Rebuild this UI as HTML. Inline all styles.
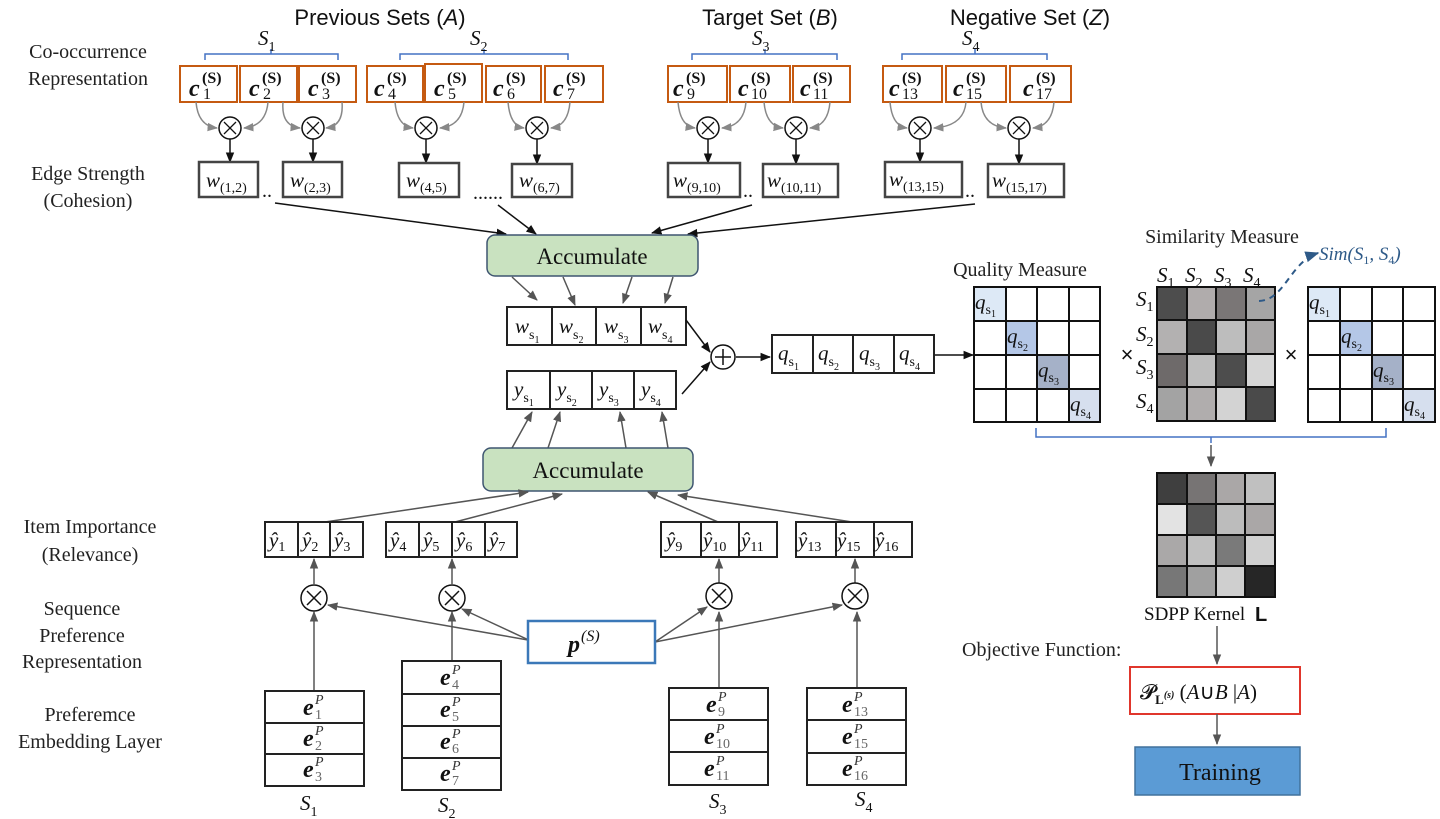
<!DOCTYPE html>
<html><head><meta charset="utf-8"><style>
html,body{margin:0;padding:0;background:#fff}
svg{display:block}
.lab{font-family:"Liberation Serif",serif;font-size:20px;fill:#222;text-anchor:middle}
.hd{font-family:"Liberation Sans",sans-serif;font-size:22px;fill:#111;text-anchor:middle}
.m{font-family:"Liberation Serif",serif;font-style:italic;font-size:21px;fill:#111}
.sub{font-size:14px;font-style:normal}
.c{font-family:"Liberation Serif",serif;font-style:italic;font-weight:bold;font-size:24px;fill:#111}
.cs{font-family:"Liberation Serif",serif;font-weight:bold;font-size:16px;fill:#111}
.cn{font-family:"Liberation Serif",serif;font-size:16px;fill:#111}
.es{font-family:"Liberation Serif",serif;font-style:italic;font-size:14px;fill:#333}
.en{font-family:"Liberation Serif",serif;font-size:14px;fill:#666}
.box{fill:#fff;stroke:#222;stroke-width:2}
.ob{fill:#fff;stroke:#c55a11;stroke-width:2}
.gb{fill:#fff;stroke:#444;stroke-width:2.5}
.ln{stroke:#111;stroke-width:1.5;fill:none}
.gl{stroke:#555;stroke-width:1.5;fill:none}
.br{stroke:#4472c4;stroke-width:1.5;fill:none}
</style></head><body>
<svg width="1440" height="819" viewBox="0 0 1440 819" xmlns="http://www.w3.org/2000/svg">
<defs>
<marker id="a" viewBox="0 0 10 10" refX="9" refY="5" markerWidth="7" markerHeight="7" orient="auto"><path d="M0,1 L10,5 L0,9 z" fill="#111"/></marker>
<marker id="g" viewBox="0 0 10 10" refX="9" refY="5" markerWidth="7" markerHeight="7" orient="auto"><path d="M0,1 L10,5 L0,9 z" fill="#555"/></marker>
<marker id="gg" viewBox="0 0 10 10" refX="9" refY="5" markerWidth="7" markerHeight="7" orient="auto"><path d="M0,1 L10,5 L0,9 z" fill="#888"/></marker>
<marker id="b" viewBox="0 0 10 10" refX="9" refY="5" markerWidth="7" markerHeight="7" orient="auto"><path d="M0,1 L10,5 L0,9 z" fill="#2e5a88"/></marker>
</defs>

<text class="hd" x="380" y="25">Previous Sets (<tspan font-style="italic">A</tspan>)</text>
<text class="hd" x="770" y="25">Target Set (<tspan font-style="italic">B</tspan>)</text>
<text class="hd" x="1030" y="25">Negative Set (<tspan font-style="italic">Z</tspan>)</text>

<text class="lab" x="88" y="58">Co-occurrence</text>
<text class="lab" x="88" y="85">Representation</text>
<text class="lab" x="88" y="180">Edge Strength</text>
<text class="lab" x="88" y="207">(Cohesion)</text>
<text class="lab" x="90" y="533">Item Importance</text>
<text class="lab" x="90" y="561">(Relevance)</text>
<text class="lab" x="82" y="615">Sequence</text>
<text class="lab" x="82" y="642">Preference</text>
<text class="lab" x="82" y="668">Representation</text>
<text class="lab" x="90" y="721">Preferemce</text>
<text class="lab" x="90" y="748">Embedding Layer</text>

<g class="br">
<path d="M205,60 V54 H338 V60 M271,54 V49"/>
<path d="M400,60 V54 H568 V60 M484,54 V49"/>
<path d="M692,60 V54 H837 V60 M765,54 V49"/>
<path d="M902,60 V54 H1047 V60 M975,54 V49"/>
</g>
<text class="m" x="258" y="45" font-size="24">S<tspan class="sub" dy="6" font-size="16">1</tspan></text>
<text class="m" x="470" y="45" font-size="24">S<tspan class="sub" dy="6" font-size="16">2</tspan></text>
<text class="m" x="752" y="45" font-size="24">S<tspan class="sub" dy="6" font-size="16">3</tspan></text>
<text class="m" x="962" y="45" font-size="24">S<tspan class="sub" dy="6" font-size="16">4</tspan></text>

<g>
<rect class="ob" x="180" y="66" width="57" height="36"/><rect class="ob" x="240" y="66" width="57" height="36"/><rect class="ob" x="299" y="66" width="57" height="36"/>
<rect class="ob" x="367" y="66" width="56" height="36"/><rect class="ob" x="425" y="64" width="57" height="38"/><rect class="ob" x="486" y="66" width="55" height="36"/><rect class="ob" x="545" y="66" width="58" height="36"/>
<rect class="ob" x="668" y="66" width="59" height="36"/><rect class="ob" x="730" y="66" width="60" height="36"/><rect class="ob" x="793" y="66" width="57" height="36"/>
<rect class="ob" x="883" y="66" width="59" height="36"/><rect class="ob" x="946" y="66" width="60" height="36"/><rect class="ob" x="1010" y="66" width="61" height="36"/>
</g>
<!-- c labels -->
<g>
<text class="c" x="189" y="96">c</text><text class="cs" x="202" y="83">(S)</text><text class="cn" x="203" y="99">1</text>
<text class="c" x="249" y="96">c</text><text class="cs" x="262" y="83">(S)</text><text class="cn" x="263" y="99">2</text>
<text class="c" x="308" y="96">c</text><text class="cs" x="321" y="83">(S)</text><text class="cn" x="322" y="99">3</text>
<text class="c" x="374" y="96">c</text><text class="cs" x="387" y="83">(S)</text><text class="cn" x="388" y="99">4</text>
<text class="c" x="434" y="96">c</text><text class="cs" x="447" y="83">(S)</text><text class="cn" x="448" y="99">5</text>
<text class="c" x="493" y="96">c</text><text class="cs" x="506" y="83">(S)</text><text class="cn" x="507" y="99">6</text>
<text class="c" x="553" y="96">c</text><text class="cs" x="566" y="83">(S)</text><text class="cn" x="567" y="99">7</text>
<text class="c" x="673" y="96">c</text><text class="cs" x="686" y="83">(S)</text><text class="cn" x="687" y="99">9</text>
<text class="c" x="738" y="96">c</text><text class="cs" x="751" y="83">(S)</text><text class="cn" x="751" y="99">10</text>
<text class="c" x="800" y="96">c</text><text class="cs" x="813" y="83">(S)</text><text class="cn" x="813" y="99">11</text>
<text class="c" x="889" y="96">c</text><text class="cs" x="902" y="83">(S)</text><text class="cn" x="902" y="99">13</text>
<text class="c" x="953" y="96">c</text><text class="cs" x="966" y="83">(S)</text><text class="cn" x="966" y="99">15</text>
<text class="c" x="1023" y="96">c</text><text class="cs" x="1036" y="83">(S)</text><text class="cn" x="1036" y="99">17</text>
</g>

<g stroke="#888" stroke-width="1.5" fill="none" marker-end="url(#gg)">
<path d="M196,102 Q198,126 217,128"/><path d="M268,102 Q266,126 244,128"/>
<path d="M283,102 Q281,126 300,128"/><path d="M342,102 Q344,126 326,128"/>
<path d="M395,102 Q397,126 413,128"/><path d="M464,102 Q462,126 440,128"/>
<path d="M508,102 Q510,126 524,128"/><path d="M570,102 Q568,126 551,128"/>
<path d="M678,102 Q680,126 695,128"/><path d="M746,102 Q744,126 722,128"/>
<path d="M764,102 Q766,126 783,128"/><path d="M830,102 Q828,126 810,128"/>
<path d="M890,102 Q892,126 907,128"/><path d="M966,102 Q964,126 934,128"/>
<path d="M981,102 Q983,126 1006,128"/><path d="M1054,102 Q1052,126 1033,128"/>
</g>
<g stroke="#111" stroke-width="1.5" fill="#fff">
<circle cx="230" cy="128" r="11"/><circle cx="313" cy="128" r="11"/><circle cx="426" cy="128" r="11"/><circle cx="537" cy="128" r="11"/>
<circle cx="708" cy="128" r="11"/><circle cx="796" cy="128" r="11"/><circle cx="920" cy="128" r="11"/><circle cx="1019" cy="128" r="11"/>
</g>
<g stroke="#111" stroke-width="1.3">
<path d="M224,122l12,12M236,122l-12,12"/><path d="M307,122l12,12M319,122l-12,12"/><path d="M420,122l12,12M432,122l-12,12"/><path d="M531,122l12,12M543,122l-12,12"/>
<path d="M702,122l12,12M714,122l-12,12"/><path d="M790,122l12,12M802,122l-12,12"/><path d="M914,122l12,12M926,122l-12,12"/><path d="M1013,122l12,12M1025,122l-12,12"/>
</g>
<g class="ln" marker-end="url(#a)">
<path d="M230,139V162"/><path d="M313,139V162"/><path d="M426,139V163"/><path d="M537,139V164"/>
<path d="M708,139V163"/><path d="M796,139V164"/><path d="M920,139V162"/><path d="M1019,139V164"/>
</g>

<g class="gb">
<rect x="199" y="162" width="59" height="35"/><rect x="283" y="162" width="59" height="35"/>
<rect x="399" y="163" width="60" height="34"/><rect x="512" y="164" width="60" height="33"/>
<rect x="668" y="163" width="72" height="34"/><rect x="763" y="164" width="75" height="33"/>
<rect x="885" y="162" width="77" height="35"/><rect x="988" y="164" width="76" height="33"/>
</g>
<g class="m">
<text x="206" y="187">w<tspan class="sub" dy="5" font-size="15">(1,2)</tspan></text>
<text x="290" y="187">w<tspan class="sub" dy="5" font-size="15">(2,3)</tspan></text>
<text x="406" y="187">w<tspan class="sub" dy="5" font-size="15">(4,5)</tspan></text>
<text x="519" y="187">w<tspan class="sub" dy="5" font-size="15">(6,7)</tspan></text>
<text x="673" y="187">w<tspan class="sub" dy="5" font-size="15">(9,10)</tspan></text>
<text x="767" y="187">w<tspan class="sub" dy="5" font-size="15">(10,11)</tspan></text>
<text x="889" y="186">w<tspan class="sub" dy="5" font-size="15">(13,15)</tspan></text>
<text x="992" y="187">w<tspan class="sub" dy="5" font-size="15">(15,17)</tspan></text>
</g>
<g font-family="Liberation Serif" font-size="20" fill="#111">
<text x="262" y="197">..</text><text x="473" y="199">......</text><text x="743" y="197">..</text><text x="965" y="197">..</text>
</g>

<g class="ln" marker-end="url(#a)">
<path d="M275,203 L506,234"/><path d="M498,205 L536,234"/><path d="M752,205 L652,233"/><path d="M975,204 L688,234"/>
</g>
<rect x="487" y="235" width="211" height="41" rx="8" fill="#c9e2c0" stroke="#3e5570" stroke-width="1.5"/>
<text x="592" y="264" font-family="Liberation Serif" font-size="23" fill="#111" text-anchor="middle">Accumulate</text>
<g class="gl" marker-end="url(#g)">
<path d="M512,277 L537,300"/><path d="M563,277 L575,305"/><path d="M632,277 L623,303"/><path d="M673,277 L665,303"/>
</g>

<g class="box"><rect x="507" y="307" width="45" height="38"/><rect x="552" y="307" width="44" height="38"/><rect x="596" y="307" width="45" height="38"/><rect x="641" y="307" width="45" height="38"/></g>
<g class="m">
<text x="515" y="333">w<tspan class="sub" dy="6">s</tspan><tspan dy="4" font-size="10" font-style="normal">1</tspan></text>
<text x="559" y="333">w<tspan class="sub" dy="6">s</tspan><tspan dy="4" font-size="10" font-style="normal">2</tspan></text>
<text x="604" y="333">w<tspan class="sub" dy="6">s</tspan><tspan dy="4" font-size="10" font-style="normal">3</tspan></text>
<text x="648" y="333">w<tspan class="sub" dy="6">s</tspan><tspan dy="4" font-size="10" font-style="normal">4</tspan></text>
</g>
<g class="box"><rect x="507" y="371" width="43" height="38"/><rect x="550" y="371" width="42" height="38"/><rect x="592" y="371" width="42" height="38"/><rect x="634" y="371" width="42" height="38"/></g>
<g class="m">
<text x="514" y="396">y<tspan class="sub" dy="6">s</tspan><tspan dy="4" font-size="10" font-style="normal">1</tspan></text>
<text x="557" y="396">y<tspan class="sub" dy="6">s</tspan><tspan dy="4" font-size="10" font-style="normal">2</tspan></text>
<text x="599" y="396">y<tspan class="sub" dy="6">s</tspan><tspan dy="4" font-size="10" font-style="normal">3</tspan></text>
<text x="641" y="396">y<tspan class="sub" dy="6">s</tspan><tspan dy="4" font-size="10" font-style="normal">4</tspan></text>
</g>
<g class="ln" marker-end="url(#a)"><path d="M686,320 L710,352"/><path d="M682,394 L710,362"/><path d="M736,357 L770,357"/><path d="M934,355 L973,355"/></g>
<circle cx="723" cy="357" r="12" fill="#fff" stroke="#111" stroke-width="1.5"/>
<path d="M715,357h16M723,349v16" stroke="#111" stroke-width="1.5"/>
<g class="box"><rect x="772" y="335" width="41" height="38"/><rect x="813" y="335" width="40" height="38"/><rect x="853" y="335" width="41" height="38"/><rect x="894" y="335" width="40" height="38"/></g>
<g class="m">
<text x="778" y="360">q<tspan class="sub" dy="6">s</tspan><tspan dy="4" font-size="10" font-style="normal">1</tspan></text>
<text x="818" y="360">q<tspan class="sub" dy="6">s</tspan><tspan dy="4" font-size="10" font-style="normal">2</tspan></text>
<text x="859" y="360">q<tspan class="sub" dy="6">s</tspan><tspan dy="4" font-size="10" font-style="normal">3</tspan></text>
<text x="899" y="360">q<tspan class="sub" dy="6">s</tspan><tspan dy="4" font-size="10" font-style="normal">4</tspan></text>
</g>

<g class="gl" marker-end="url(#g)">
<path d="M512,448 L532,412"/><path d="M548,448 L560,412"/><path d="M626,448 L620,412"/><path d="M668,448 L662,412"/>
</g>
<rect x="483" y="448" width="210" height="43" rx="8" fill="#c9e2c0" stroke="#3e5570" stroke-width="1.5"/>
<text x="588" y="478" font-family="Liberation Serif" font-size="23" fill="#111" text-anchor="middle">Accumulate</text>
<g class="gl" marker-end="url(#g)">
<path d="M325,522 L528,492"/><path d="M455,522 L562,494"/><path d="M718,522 L648,492"/><path d="M852,522 L678,495"/>
</g>

<g class="box">
<rect x="265" y="522" width="33" height="35"/><rect x="298" y="522" width="32" height="35"/><rect x="330" y="522" width="33" height="35"/>
<rect x="386" y="522" width="33" height="35"/><rect x="419" y="522" width="33" height="35"/><rect x="452" y="522" width="33" height="35"/><rect x="485" y="522" width="32" height="35"/>
<rect x="661" y="522" width="40" height="35"/><rect x="701" y="522" width="38" height="35"/><rect x="739" y="522" width="38" height="35"/>
<rect x="796" y="522" width="40" height="35"/><rect x="836" y="522" width="38" height="35"/><rect x="874" y="522" width="38" height="35"/>
</g>
<g class="m">
<text x="269" y="547">ŷ<tspan class="sub" dy="4">1</tspan></text><text x="302" y="547">ŷ<tspan class="sub" dy="4">2</tspan></text><text x="334" y="547">ŷ<tspan class="sub" dy="4">3</tspan></text>
<text x="390" y="547">ŷ<tspan class="sub" dy="4">4</tspan></text><text x="423" y="547">ŷ<tspan class="sub" dy="4">5</tspan></text><text x="456" y="547">ŷ<tspan class="sub" dy="4">6</tspan></text><text x="489" y="547">ŷ<tspan class="sub" dy="4">7</tspan></text>
<text x="666" y="547">ŷ<tspan class="sub" dy="4">9</tspan></text><text x="703" y="547">ŷ<tspan class="sub" dy="4">10</tspan></text><text x="741" y="547">ŷ<tspan class="sub" dy="4">11</tspan></text>
<text x="798" y="547">ŷ<tspan class="sub" dy="4">13</tspan></text><text x="837" y="547">ŷ<tspan class="sub" dy="4">15</tspan></text><text x="875" y="547">ŷ<tspan class="sub" dy="4">16</tspan></text>
</g>

<g class="gl" marker-end="url(#g)">
<path d="M314,584V559"/><path d="M452,584V559"/><path d="M719,584V559"/><path d="M855,584V559"/>
<path d="M314,691V612"/><path d="M452,661V612"/><path d="M719,688V612"/><path d="M857,688V612"/>
<path d="M528,640 L328,605"/><path d="M533,642 L462,609"/><path d="M655,642 L707,607"/><path d="M655,642 L842,605"/>
</g>
<g stroke="#111" stroke-width="1.5" fill="#fff">
<circle cx="314" cy="598" r="13"/><circle cx="452" cy="598" r="13"/><circle cx="719" cy="596" r="13"/><circle cx="855" cy="596" r="13"/>
</g>
<g stroke="#111" stroke-width="1.5">
<path d="M307,591l14,14M321,591l-14,14"/><path d="M445,591l14,14M459,591l-14,14"/><path d="M712,589l14,14M726,589l-14,14"/><path d="M848,589l14,14M862,589l-14,14"/>
</g>

<rect x="528" y="621" width="127" height="42" fill="#fff" stroke="#3b78b8" stroke-width="2.5"/>
<text x="568" y="652" class="c" font-size="25">p</text><text x="581" y="641" class="cn" font-style="italic">(S)</text>

<g class="box">
<rect x="265" y="691" width="99" height="32"/><rect x="265" y="723" width="99" height="31"/><rect x="265" y="754" width="99" height="32"/>
<rect x="402" y="661" width="99" height="33"/><rect x="402" y="694" width="99" height="32"/><rect x="402" y="726" width="99" height="32"/><rect x="402" y="758" width="99" height="32"/>
<rect x="669" y="688" width="99" height="32"/><rect x="669" y="720" width="99" height="32"/><rect x="669" y="752" width="99" height="33"/>
<rect x="807" y="688" width="99" height="32"/><rect x="807" y="720" width="99" height="33"/><rect x="807" y="753" width="99" height="32"/>
</g>
<g>
<text class="c" font-size="22" x="303" y="715">e</text><text class="es" x="315" y="704">P</text><text class="en" x="315" y="719">1</text>
<text class="c" font-size="22" x="303" y="746">e</text><text class="es" x="315" y="735">P</text><text class="en" x="315" y="750">2</text>
<text class="c" font-size="22" x="303" y="777">e</text><text class="es" x="315" y="766">P</text><text class="en" x="315" y="781">3</text>
<text class="c" font-size="22" x="440" y="685">e</text><text class="es" x="452" y="674">P</text><text class="en" x="452" y="689">4</text>
<text class="c" font-size="22" x="440" y="717">e</text><text class="es" x="452" y="706">P</text><text class="en" x="452" y="721">5</text>
<text class="c" font-size="22" x="440" y="749">e</text><text class="es" x="452" y="738">P</text><text class="en" x="452" y="753">6</text>
<text class="c" font-size="22" x="440" y="781">e</text><text class="es" x="452" y="770">P</text><text class="en" x="452" y="785">7</text>
<text class="c" font-size="22" x="706" y="712">e</text><text class="es" x="718" y="701">P</text><text class="en" x="718" y="716">9</text>
<text class="c" font-size="22" x="704" y="744">e</text><text class="es" x="716" y="733">P</text><text class="en" x="716" y="748">10</text>
<text class="c" font-size="22" x="704" y="776">e</text><text class="es" x="716" y="765">P</text><text class="en" x="716" y="780">11</text>
<text class="c" font-size="22" x="842" y="712">e</text><text class="es" x="854" y="701">P</text><text class="en" x="854" y="716">13</text>
<text class="c" font-size="22" x="842" y="744">e</text><text class="es" x="854" y="733">P</text><text class="en" x="854" y="748">15</text>
<text class="c" font-size="22" x="842" y="776">e</text><text class="es" x="854" y="765">P</text><text class="en" x="854" y="780">16</text>
</g>
<g class="m" font-size="24">
<text x="300" y="810">S<tspan class="sub" dy="6" font-size="16">1</tspan></text>
<text x="438" y="812">S<tspan class="sub" dy="6" font-size="16">2</tspan></text>
<text x="709" y="808">S<tspan class="sub" dy="6" font-size="16">3</tspan></text>
<text x="855" y="806">S<tspan class="sub" dy="6" font-size="16">4</tspan></text>
</g>

<text x="1222" y="243" font-family="Liberation Serif" font-size="20" fill="#222" text-anchor="middle">Similarity Measure</text>
<text x="1020" y="276" font-family="Liberation Serif" font-size="20" fill="#222" text-anchor="middle">Quality Measure</text>

<g stroke="none">
<rect x="974" y="287" width="32" height="34" fill="#dde9f6"/><rect x="1006" y="321" width="31" height="34" fill="#b4c7e7"/><rect x="1037" y="355" width="32" height="34" fill="#a5b1c8"/><rect x="1069" y="389" width="31" height="33" fill="#d6dfee"/>
</g>
<g stroke="#111" stroke-width="2" fill="none"><rect x="974" y="287" width="126" height="135"/><path d="M1006,287V422M1037,287V422M1069,287V422M974,321H1100M974,355H1100M974,389H1100"/></g>
<g class="m" font-size="21">
<text x="975" y="309">q<tspan class="sub" dy="5" font-size="14">s</tspan><tspan dy="3" font-size="10" font-style="normal">1</tspan></text>
<text x="1007" y="343">q<tspan class="sub" dy="5" font-size="14">s</tspan><tspan dy="3" font-size="10" font-style="normal">2</tspan></text>
<text x="1038" y="377">q<tspan class="sub" dy="5" font-size="14">s</tspan><tspan dy="3" font-size="10" font-style="normal">3</tspan></text>
<text x="1070" y="411">q<tspan class="sub" dy="5" font-size="14">s</tspan><tspan dy="3" font-size="10" font-style="normal">4</tspan></text>
</g>
<text x="1127" y="362" font-family="Liberation Sans" font-size="22" fill="#111" text-anchor="middle">×</text>

<g>
<rect x="1157" y="287" width="30" height="33" fill="#4d4d4d"/><rect x="1187" y="287" width="29" height="33" fill="#b0acac"/><rect x="1216" y="287" width="30" height="33" fill="#7a7676"/><rect x="1246" y="287" width="29" height="33" fill="#a5a5a5"/>
<rect x="1157" y="320" width="30" height="34" fill="#b3b1b1"/><rect x="1187" y="320" width="29" height="34" fill="#4a4a4a"/><rect x="1216" y="320" width="30" height="34" fill="#bdbdbd"/><rect x="1246" y="320" width="29" height="34" fill="#a9a7a7"/>
<rect x="1157" y="354" width="30" height="33" fill="#6e6a6a"/><rect x="1187" y="354" width="29" height="33" fill="#bebebe"/><rect x="1216" y="354" width="30" height="33" fill="#4d4d4d"/><rect x="1246" y="354" width="29" height="33" fill="#d6d6d6"/>
<rect x="1157" y="387" width="30" height="34" fill="#a3a3a3"/><rect x="1187" y="387" width="29" height="34" fill="#b0adad"/><rect x="1216" y="387" width="30" height="34" fill="#d3d3d3"/><rect x="1246" y="387" width="29" height="34" fill="#4a4a4a"/>
</g>
<g stroke="#111" stroke-width="2" fill="none"><rect x="1157" y="287" width="118" height="134"/><path d="M1187,287V421M1216,287V421M1246,287V421M1157,320H1275M1157,354H1275M1157,387H1275"/></g>
<g class="m" font-size="21">
<text x="1157" y="282">S<tspan class="sub" dy="5" font-size="13">1</tspan></text><text x="1185" y="282">S<tspan class="sub" dy="5" font-size="13">2</tspan></text><text x="1214" y="282">S<tspan class="sub" dy="5" font-size="13">3</tspan></text><text x="1243" y="282">S<tspan class="sub" dy="5" font-size="13">4</tspan></text>
<text x="1136" y="306">S<tspan class="sub" dy="5" font-size="13">1</tspan></text><text x="1136" y="341">S<tspan class="sub" dy="5" font-size="13">2</tspan></text><text x="1136" y="374">S<tspan class="sub" dy="5" font-size="13">3</tspan></text><text x="1136" y="408">S<tspan class="sub" dy="5" font-size="13">4</tspan></text>
</g>
<path d="M1259,301 C1285,300 1290,262 1318,253" stroke="#2e5a88" stroke-width="2" stroke-dasharray="6,5" fill="none" marker-end="url(#b)"/>
<text x="1319" y="260" font-family="Liberation Serif" font-style="italic" font-size="19" fill="#2e5a88">Sim(S<tspan font-size="12" font-style="normal" dy="4">1</tspan><tspan dy="-4">, S</tspan><tspan font-size="12" font-style="normal" dy="4">4</tspan><tspan dy="-4">)</tspan></text>
<text x="1291" y="362" font-family="Liberation Sans" font-size="22" fill="#111" text-anchor="middle">×</text>

<g>
<rect x="1308" y="287" width="32" height="34" fill="#dde9f6"/><rect x="1340" y="321" width="32" height="34" fill="#b4c7e7"/><rect x="1372" y="355" width="31" height="34" fill="#a5b1c8"/><rect x="1403" y="389" width="32" height="33" fill="#d6dfee"/>
</g>
<g stroke="#111" stroke-width="2" fill="none"><rect x="1308" y="287" width="127" height="135"/><path d="M1340,287V422M1372,287V422M1403,287V422M1308,321H1435M1308,355H1435M1308,389H1435"/></g>
<g class="m" font-size="21">
<text x="1309" y="309">q<tspan class="sub" dy="5" font-size="14">s</tspan><tspan dy="3" font-size="10" font-style="normal">1</tspan></text>
<text x="1341" y="343">q<tspan class="sub" dy="5" font-size="14">s</tspan><tspan dy="3" font-size="10" font-style="normal">2</tspan></text>
<text x="1373" y="377">q<tspan class="sub" dy="5" font-size="14">s</tspan><tspan dy="3" font-size="10" font-style="normal">3</tspan></text>
<text x="1404" y="411">q<tspan class="sub" dy="5" font-size="14">s</tspan><tspan dy="3" font-size="10" font-style="normal">4</tspan></text>
</g>

<path class="br" d="M1036,428 V437 H1386 V428 M1211,437 V443"/>
<path class="gl" d="M1211,445 V466" marker-end="url(#g)"/>

<g>
<rect x="1157" y="473" width="30" height="31" fill="#3f3f3f"/><rect x="1187" y="473" width="29" height="31" fill="#777474"/><rect x="1216" y="473" width="29" height="31" fill="#aaa7a7"/><rect x="1245" y="473" width="30" height="31" fill="#c0c0c0"/>
<rect x="1157" y="504" width="30" height="31" fill="#e3e3e3"/><rect x="1187" y="504" width="29" height="31" fill="#555"/><rect x="1216" y="504" width="29" height="31" fill="#bcbcbc"/><rect x="1245" y="504" width="30" height="31" fill="#aaa7a7"/>
<rect x="1157" y="535" width="30" height="31" fill="#aaa8a8"/><rect x="1187" y="535" width="29" height="31" fill="#c0c0c0"/><rect x="1216" y="535" width="29" height="31" fill="#7a7a7a"/><rect x="1245" y="535" width="30" height="31" fill="#d0d0d0"/>
<rect x="1157" y="566" width="30" height="31" fill="#777"/><rect x="1187" y="566" width="29" height="31" fill="#a0a0a0"/><rect x="1216" y="566" width="29" height="31" fill="#cfcfcf"/><rect x="1245" y="566" width="30" height="31" fill="#262626"/>
</g>
<g stroke="#111" stroke-width="2" fill="none"><rect x="1157" y="473" width="118" height="124"/><path d="M1187,473V597M1216,473V597M1245,473V597M1157,504H1275M1157,535H1275M1157,566H1275"/></g>
<text x="1144" y="620" font-family="Liberation Serif" font-size="19" fill="#111">SDPP Kernel</text>
<text x="1255" y="621" font-family="Liberation Sans" font-weight="bold" font-size="20" fill="#111">L</text>
<path class="gl" d="M1217,626 V664" marker-end="url(#g)"/>
<text x="962" y="656" font-family="Liberation Serif" font-size="20" fill="#222">Objective Function:</text>
<rect x="1130" y="667" width="170" height="47" fill="#fff" stroke="#e0362c" stroke-width="2"/>
<text x="1140" y="699" font-family="Liberation Serif" font-size="21" fill="#111">𝓟<tspan font-size="13" font-weight="bold" dy="5">L</tspan><tspan font-size="10" font-style="italic" font-weight="bold" dy="-6">(s)</tspan><tspan dy="1"> (</tspan><tspan font-style="italic">A</tspan>∪<tspan font-style="italic">B</tspan> |<tspan font-style="italic">A</tspan>)</text>
<path class="gl" d="M1217,714 V744" marker-end="url(#g)"/>
<rect x="1135" y="747" width="165" height="48" fill="#5b9bd5" stroke="#41719c" stroke-width="1.5"/>
<text x="1220" y="780" font-family="Liberation Serif" font-size="24" fill="#111" text-anchor="middle">Training</text>
</svg>
</body></html>
